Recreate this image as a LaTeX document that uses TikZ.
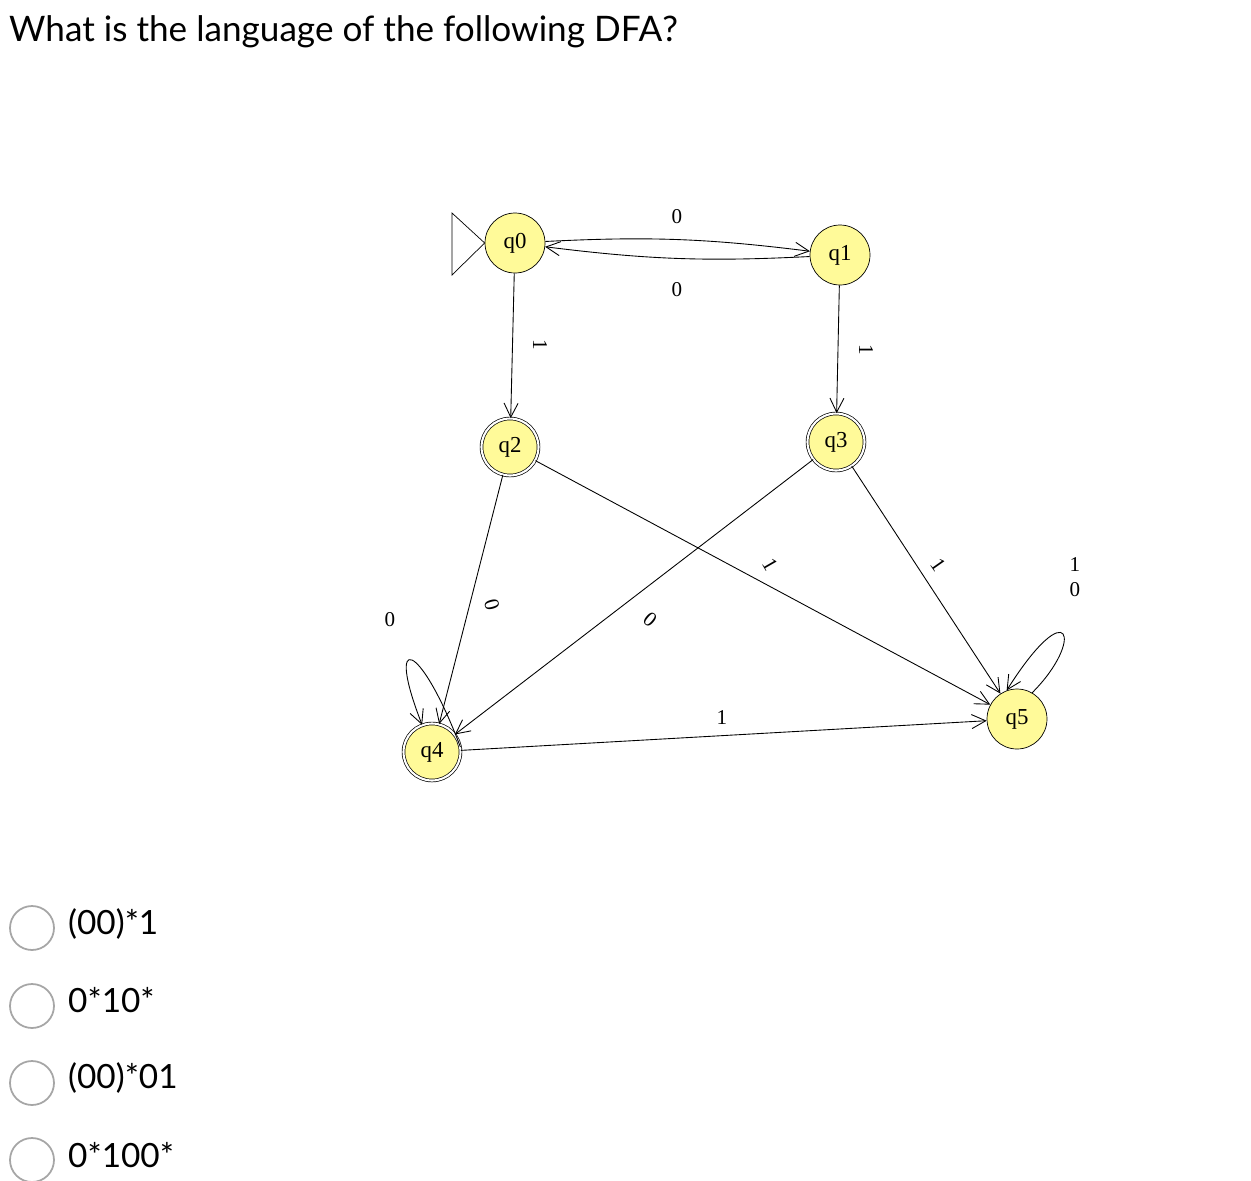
\documentclass[tikz,border=0pt]{standalone}
\usepackage{fontspec}
\setmainfont{Liberation Serif}
\newfontfamily\lato{Lato}
\usetikzlibrary{arrows.meta}
\begin{document}
\begin{tikzpicture}[x=0.02cm,y=-0.02cm,
  st/.style={circle,draw,fill=yellow!40,minimum size=1.2cm,inner sep=0pt,font=\fontsize{13}{13}\selectfont},
  acc/.style={st,double,double distance=1.2pt,minimum size=1.14cm},
  ed/.style={draw,-{Straight Barb[length=8pt,width=8pt]},line width=0.5pt},
  lb/.style={font=\fontsize{12}{12}\selectfont},
  radio/.style={circle,draw=gray!70,line width=1pt,minimum size=0.88cm,inner sep=0pt},
  opt/.style={font=\lato\fontsize{19}{19}\selectfont,anchor=west}]
\useasboundingbox (0,0) rectangle (1251,1180);
\node[anchor=west,font=\lato\fontsize{20}{20}\selectfont] (title) at (3,32) {What is the language of the following DFA?};
\node[st] (q0) at (515,243) {q0};
\node[st] (q1) at (840,255) {q1};
\node[acc] (q2) at (510,447) {q2};
\node[acc] (q3) at (836,442) {q3};
\node[acc] (q4) at (432,752) {q4};
\node[st] (q5) at (1017,719) {q5};
\draw (q0.west) -- (452,213) -- (452,275) -- cycle;
\draw[ed] (q0) to[bend left=5] (q1);
\draw[ed] (q1) to[bend left=5] (q0);
\node[lb] (l01) at (677,217) {0};
\node[lb] (l10) at (677,290) {0};
\draw[ed] (q0) -- (q2);
\node[lb,rotate=-90] (l02) at (540,345) {1};
\draw[ed] (q1) -- (q3);
\node[lb,rotate=-90] (l13) at (866,350) {1};
\draw[ed] (q2) -- (q4);
\node[lb,rotate=-75] (l24) at (492,605) {0};
\draw[ed] (q2) -- (q5);
\node[lb,rotate=-60] (l25) at (770,565) {1};
\draw[ed] (q3) -- (q4);
\node[lb,rotate=-40] (l34) at (650,620) {0};
\draw[ed] (q3) -- (q5);
\node[lb,rotate=-55] (l35) at (938,565) {1};
\draw[ed] (q4) -- (q5);
\node[lb] (l45) at (722,718) {1};
\draw[ed] (q4.10) .. controls (420,640) and (385,630) .. (q4.110);
\node[lb] (l44) at (390,620) {0};
\draw[ed] (q5.60) .. controls (1085,640) and (1070,590) .. (q5.110);
\node[lb] (l55a) at (1075,565) {1};
\node[lb] (l55b) at (1075,590) {0};
\node[radio] (r1) at (32,928) {};
\node[radio] (r2) at (32,1006) {};
\node[radio] (r3) at (32,1083) {};
\node[radio] (r4) at (32,1160) {};
\node[opt] (o1) at (62,924) {(00)*1};
\node[opt] (o2) at (62,1000) {0*10*};
\node[opt] (o3) at (62,1078) {(00)*01};
\node[opt] (o4) at (62,1155) {0*100*};
\end{tikzpicture}
\end{document}
